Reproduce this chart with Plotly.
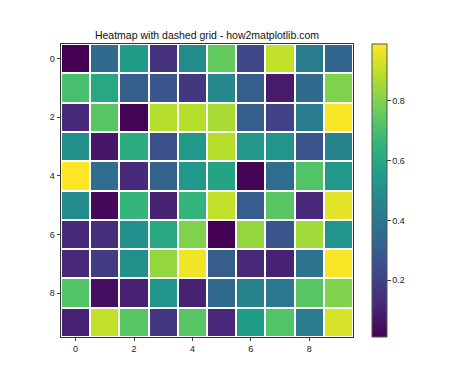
import plotly.graph_objects as go

x_labels = list(range(10))
y_labels = list(range(10))

row0 = [0.01, 0.35, 0.55, 0.15, 0.48, 0.75, 0.22, 0.90, 0.42, 0.33]
row1 = [0.70, 0.60, 0.30, 0.27, 0.17, 0.47, 0.30, 0.08, 0.35, 0.80]
row2 = [0.13, 0.73, 0.02, 0.88, 0.88, 0.86, 0.30, 0.20, 0.42, 0.98]
row3 = [0.50, 0.07, 0.62, 0.25, 0.53, 0.88, 0.53, 0.52, 0.27, 0.45]
row4 = [0.99, 0.36, 0.13, 0.32, 0.53, 0.58, 0.02, 0.36, 0.72, 0.53]
row5 = [0.48, 0.03, 0.65, 0.10, 0.65, 0.90, 0.30, 0.73, 0.12, 0.95]
row6 = [0.13, 0.14, 0.50, 0.60, 0.80, 0.01, 0.83, 0.27, 0.85, 0.52]
row7 = [0.12, 0.18, 0.50, 0.83, 0.97, 0.30, 0.12, 0.10, 0.38, 0.98]
row8 = [0.72, 0.05, 0.10, 0.52, 0.10, 0.35, 0.45, 0.40, 0.73, 0.80]
row9 = [0.10, 0.90, 0.73, 0.17, 0.73, 0.12, 0.55, 0.72, 0.42, 0.93]

z = [row0, row1, row2, row3, row4, row5, row6, row7, row8, row9]

W, H = 466, 371
L, T = 53, 36
PW, PH = 292, 293

fig = go.Figure(go.Heatmap(
    z=z, x=x_labels, y=y_labels,
    colorscale="Viridis",
    xgap=2, ygap=2,
    colorbar=dict(
        thickness=15, len=1.0, lenmode="fraction",
        x=1.065, xanchor="left", xpad=0, ypad=0,
        y=0.5, yanchor="middle",
        outlinewidth=1, outlinecolor="#555",
        tickvals=[0.2, 0.4, 0.6, 0.8],
        ticks="outside", ticklen=3.5, tickcolor="#333",
        tickfont=dict(size=9, color="#222", family="Liberation Sans"),
    ),
))

fig.update_layout(
    width=W, height=H,
    margin=dict(l=L, r=W - L - PW, t=T, b=H - T - PH),
    paper_bgcolor="white", plot_bgcolor="white",
    title=dict(text="Heatmap with dashed grid - how2matplotlib.com",
               x=(L + PW / 2) / W, xanchor="center", y=1 - 27 / H, yanchor="middle",
               font=dict(size=10.5, color="#111", family="Liberation Sans")),
    font=dict(family="Liberation Sans", size=9, color="#222"),
)
fig.update_xaxes(range=[-0.5, 9.5], tickvals=[0, 2, 4, 6, 8], ticks="outside", ticklen=3.5,
                 showgrid=False, zeroline=False, showline=True, linecolor="#333", linewidth=0.8,
                 mirror=True)
fig.update_yaxes(range=[9.5, -0.5], tickvals=[0, 2, 4, 6, 8], ticks="outside", ticklen=3.5,
                 showgrid=False, zeroline=False, showline=True, linecolor="#333", linewidth=0.8,
                 mirror=True)

fig.write_html("out.html")
